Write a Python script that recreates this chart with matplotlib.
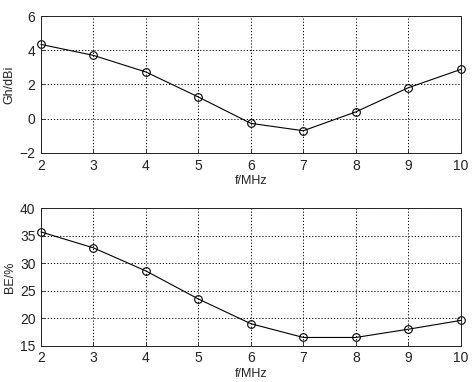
import numpy as np
import matplotlib
matplotlib.use("Agg")
import matplotlib.pyplot as plt

freq = [2, 3, 4, 5, 6, 7, 8, 9, 10]
gain = [4.34, 3.7, 2.73, 1.27, -0.27, -0.7, 0.4, 1.81, 2.88]
beam_eff = [35.7, 32.8, 28.6, 23.5, 19.0, 16.5, 16.5, 18.0, 19.6]

plt.rcParams['font.family'] = ['Liberation Sans', 'DejaVu Sans']

fig = plt.figure(figsize=(4.74, 3.82), dpi=100, facecolor='white')
ax1 = fig.add_axes([0.0865, 0.5995, 0.8855, 0.3586])
ax2 = fig.add_axes([0.0865, 0.095, 0.8855, 0.3597])

def style(ax, ylim, yticks, ylabel):
    ax.set_xlim(2, 10)
    ax.set_ylim(*ylim)
    ax.set_xticks(np.arange(2, 11, 1))
    ax.set_yticks(yticks)
    ax.grid(True, color='black', linestyle=(0, (1.2, 2.0)), linewidth=0.7)
    ax.tick_params(direction='in', length=3, labelsize=10, width=0.6,
                   colors='#222222', pad=4)
    for sp in ax.spines.values():
        sp.set_linewidth(0.7)
        sp.set_color('#222222')
    ax.set_xlabel('f/MHz', fontsize=9, labelpad=2, color='#222222')
    ax.set_ylabel(ylabel, fontsize=9, labelpad=3, color='#222222')

ax1.plot(freq, gain, color='black', linewidth=0.8, marker='o', markersize=5.5,
         markerfacecolor='none', markeredgewidth=0.8, clip_on=False)
style(ax1, (-2, 6), np.arange(-2, 7, 2), 'Gh/dBi')

ax2.plot(freq, beam_eff, color='black', linewidth=0.8, marker='o', markersize=5.5,
         markerfacecolor='none', markeredgewidth=0.8, clip_on=False)
style(ax2, (15, 40), np.arange(15, 41, 5), 'BE/%')

plt.savefig('out.png', dpi=100, facecolor='white')
